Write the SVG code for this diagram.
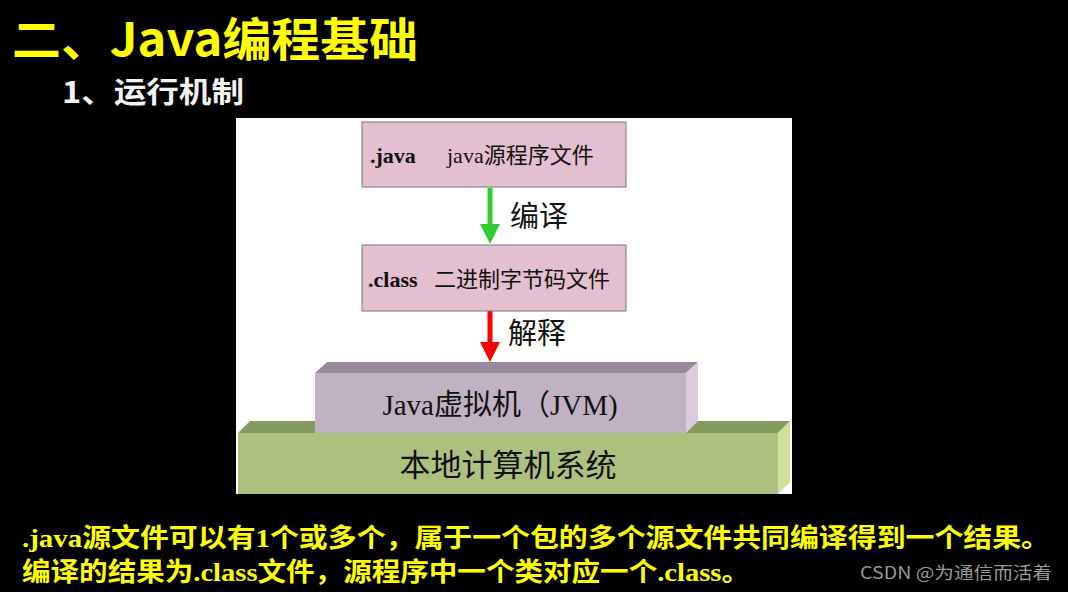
<svg xmlns="http://www.w3.org/2000/svg" width="1068" height="592" viewBox="0 0 1068 592">
<style>
.t{font-family:"Liberation Serif","Noto Sans CJK SC",serif;fill:#111}
.y{font-family:"Liberation Serif","Noto Sans CJK SC",serif;fill:#ffff00;font-weight:bold;font-size:26px}
.box{fill:#e3bfd0;stroke:#777;stroke-width:1}
</style>
<defs>
<marker id="ag" markerWidth="4" markerHeight="4" refX="2" refY="2" orient="auto" markerUnits="strokeWidth"><path d="M0,0L4,2L0,4z" fill="#33cc33"/></marker>
<marker id="ar" markerWidth="4" markerHeight="4" refX="2" refY="2" orient="auto" markerUnits="strokeWidth"><path d="M0,0L4,2L0,4z" fill="#ff0000"/></marker>
</defs>
<rect width="1068" height="592" fill="#000"/>
<text x="12" y="56" font-family="'Noto Sans CJK SC',sans-serif" font-weight="bold" font-size="46" fill="#ffff00" textLength="406" lengthAdjust="spacingAndGlyphs">二、Java编程基础</text>
<text x="62" y="103" font-family="'Noto Sans CJK SC',sans-serif" font-weight="bold" font-size="29" fill="#f2f2f2" textLength="182" lengthAdjust="spacingAndGlyphs">1、运行机制</text>
<rect x="236" y="118" width="556" height="376" fill="#fff"/>
<g id="connectors">
<line x1="490" y1="188" x2="490" y2="234" stroke="#33cc33" stroke-width="5" marker-end="url(#ag)"/>
<line x1="490" y1="311" x2="490" y2="352" stroke="#ff0000" stroke-width="5" marker-end="url(#ar)"/>
<text class="t" x="510" y="227" font-size="29" font-family="'Noto Sans CJK SC',sans-serif">编译</text>
<text class="t" x="508" y="344" font-size="29" font-family="'Noto Sans CJK SC',sans-serif">解释</text>
</g>
<g id="java">
<rect class="box" x="362" y="122" width="264" height="65"/>
<text class="t" x="370" y="163" font-size="22"><tspan font-weight="bold">.java</tspan><tspan x="447">java源程序文件</tspan></text>
</g>
<g id="class">
<rect class="box" x="362" y="245" width="264" height="66"/>
<text class="t" x="368" y="287" font-size="22"><tspan font-weight="bold">.class</tspan><tspan x="434">二进制字节码文件</tspan></text>
</g>
<g id="os">
<polygon points="238,433 250,421 790,421 778,433" fill="#849a5e"/>
<polygon points="778,433 790,421 790,482 778,494" fill="#cfe09a"/>
<rect x="238" y="433" width="540" height="61" fill="#adc17f"/>
<text class="t" x="508" y="476" font-size="31" text-anchor="middle">本地计算机系统</text>
</g>
<g id="jvm">
<polygon points="315,373 327,362 698,362 686,373" fill="#968a98"/>
<polygon points="686,373 698,362 698,421 686,433" fill="#dccbdc"/>
<rect x="315" y="373" width="371" height="60" fill="#c0b1c3"/>
<text class="t" x="500" y="415" font-size="29" text-anchor="middle">Java虚拟机（JVM)</text>
</g>
<text class="y" x="22" y="547" textLength="1028" lengthAdjust="spacingAndGlyphs">.java源文件可以有1个或多个，属于一个包的多个源文件共同编译得到一个结果。</text>
<text class="y" x="22" y="581" textLength="728" lengthAdjust="spacingAndGlyphs">编译的结果为.class文件，源程序中一个类对应一个.class。</text>
<text x="860" y="579" font-family="'Noto Sans CJK SC',sans-serif" font-size="17" fill="#999" textLength="192" lengthAdjust="spacingAndGlyphs">CSDN @为通信而活着</text>
</svg>
